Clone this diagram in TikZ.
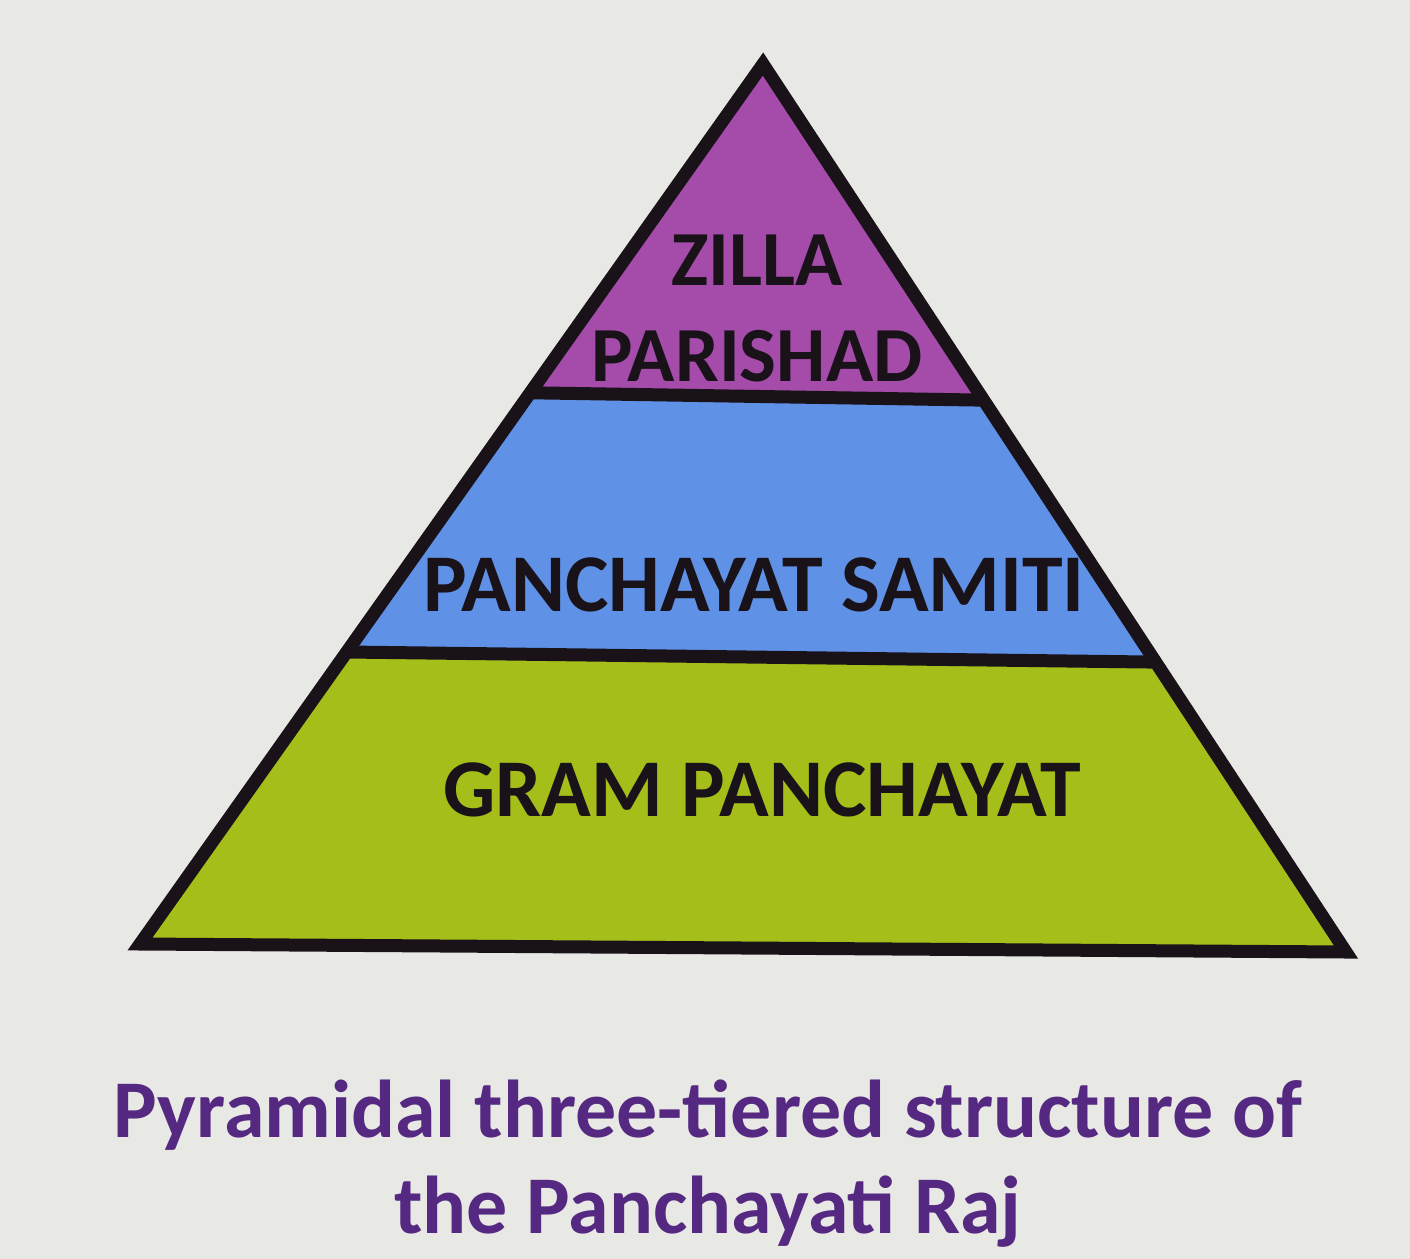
\documentclass[tikz,border=0pt]{standalone}
\usepackage{fontspec}
\usetikzlibrary{calc}
\setmainfont{Carlito}
\definecolor{bgc}{RGB}{232,233,228}
\definecolor{zpc}{RGB}{165,75,170}
\definecolor{psc}{RGB}{95,145,230}
\definecolor{gpc}{RGB}{165,190,25}
\definecolor{capc}{RGB}{85,40,130}
\definecolor{inkc}{RGB}{25,18,25}
\begin{document}
\begin{tikzpicture}[x=0.5pt,y=-0.5pt,
  tier/.style={font=\fontsize{41}{48}\selectfont\bfseries, text=inkc, inner sep=0pt, align=center},
  toptier/.style={font=\fontsize{39}{48}\selectfont\bfseries, text=inkc, inner sep=0pt, align=center},
  captxt/.style={font=\fontsize{41}{48}\selectfont\bfseries, text=capc, inner sep=0pt, align=center},
  edge/.style={draw=inkc, line width=6.5pt, line join=miter, line cap=butt}]
\fill[bgc] (0,0) rectangle (1410,1259);
\useasboundingbox (0,0) rectangle (1410,1259);
\coordinate (apex) at (763,64);
\coordinate (bl) at (140,944);
\coordinate (br) at (1346,952);
\coordinate (d1l) at (545,393);
\coordinate (d1r) at (975,400);
\coordinate (d2l) at (347,652);
\coordinate (d2r) at (1148,662);
\begin{scope}
  \clip (apex) -- (bl) -- (br) -- cycle;
  \fill[gpc] (0,0) rectangle (1410,1259);
  \fill[psc] (0,0) -- (0,646) -- (d2l) -- (d2r) -- (1410,664) -- (1410,0) -- cycle;
  \fill[zpc] (0,0) -- (0,390) -- (d1l) -- (d1r) -- (1410,402) -- (1410,0) -- cycle;
\end{scope}
\begin{scope}
  \clip (apex) -- (bl) -- (br) -- cycle;
  \draw[edge] ($(d1l)!-0.05!(d1r)$) -- ($(d1r)!-0.05!(d1l)$);
  \draw[edge] ($(d2l)!-0.05!(d2r)$) -- ($(d2r)!-0.05!(d2l)$);
\end{scope}
\draw[edge] (apex) -- (bl) -- (br) -- cycle;
\node[toptier] (zp) at (757,308) {ZILLA\\PARISHAD};
\node[tier] (ps) at (754,585) {PANCHAYAT SAMITI};
\node[tier] (gp) at (762,790) {GRAM PANCHAYAT};
\node[captxt] (cap) at (708,1164) {Pyramidal three-tiered structure of\\the Panchayati Raj};
\end{tikzpicture}
\end{document}
